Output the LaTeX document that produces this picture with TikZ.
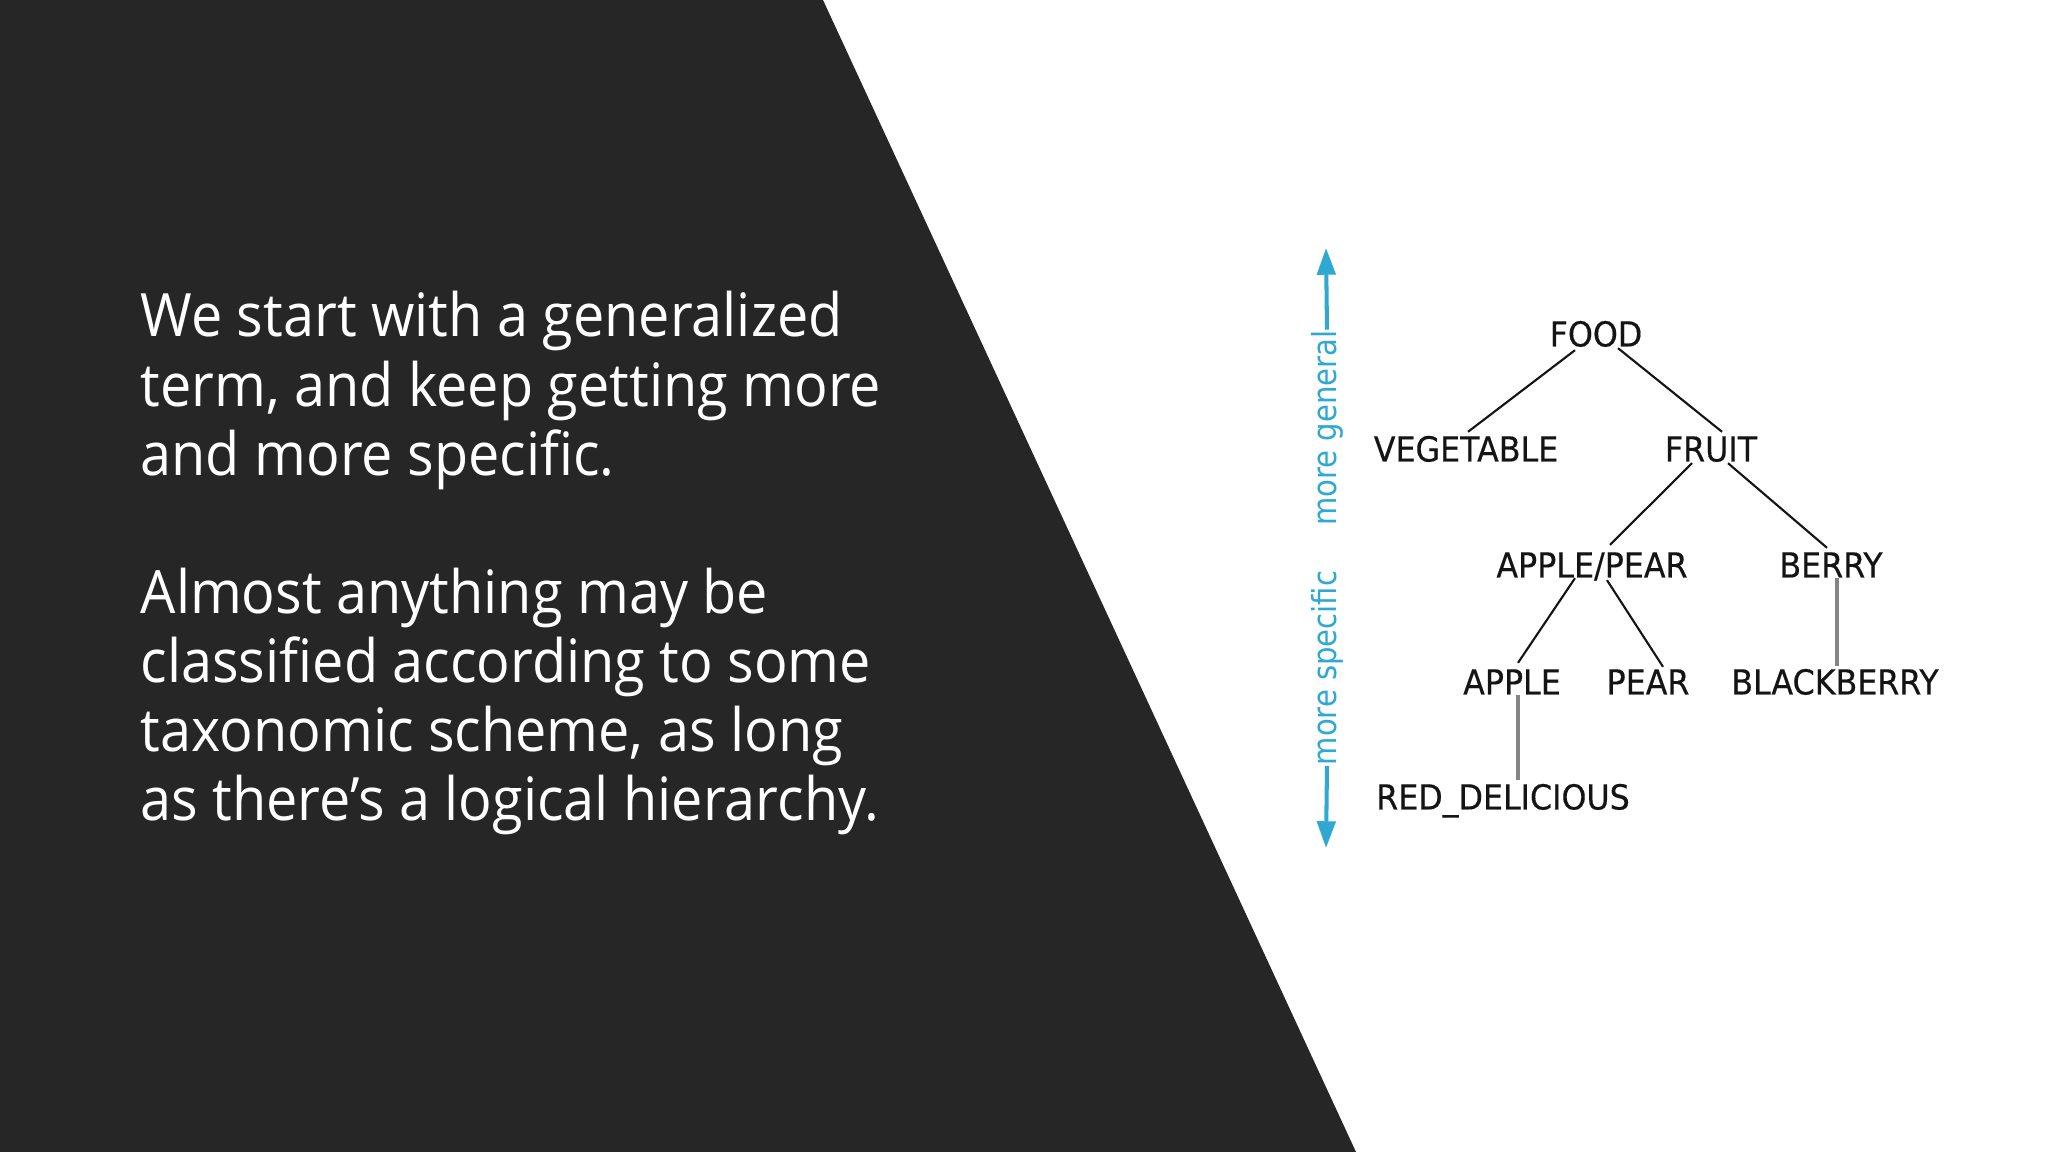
\documentclass[tikz,border=0pt]{standalone}
\usepackage{fontspec}
\setmainfont[FakeStretch=0.933]{Open Sans}
\newfontfamily\treefont[FakeStretch=0.92,FakeBold=0.4]{DejaVu Sans}
\newfontfamily\axisfont[FakeStretch=0.88]{DejaVu Sans}
\usetikzlibrary{arrows.meta,calc}
\definecolor{slidedark}{HTML}{262626}
\definecolor{axisblue}{HTML}{2FA8D2}
\definecolor{treeink}{HTML}{141414}
\definecolor{stemgray}{HTML}{858585}
\tikzset{
  lbl/.style={inner sep=0pt, text height=7.1pt, text depth=0pt, font=\treefont\fontsize{9.8}{11}\selectfont, text=treeink},
  edge/.style={draw=treeink, line width=0.6pt},
  stem/.style={draw=stemgray, line width=1.15pt},
  axislbl/.style={inner sep=0pt, rotate=90, font=\axisfont\fontsize{9.4}{11}\selectfont, text=axisblue},
  axisline/.style={draw=axisblue, line width=1.15pt, -{Triangle[width=5.2pt,length=7.6pt]}},
}
\begin{document}
\begin{tikzpicture}[x=0.01cm,y=-0.01cm]
\useasboundingbox (0,0) rectangle (2048,1152);
\fill[white] (0,0) rectangle (2048,1152);
\fill[slidedark] (0,0) -- (823,0) -- (1356,1152) -- (0,1152) -- cycle;

\node[anchor=base west, inner sep=0pt, text=white, font=\fontsize{17}{19.63}\selectfont] (body) at (140,337)
  {\parbox[t]{9cm}{\raggedright We start with a generalized\\ term, and keep getting more\\ and more specific.\\[19.63pt] Almost anything may be\\ classified according to some\\ taxonomic scheme, as long\\ as there’s a logical hierarchy.}};

% axis
\node[axislbl] (gen) at (1327,428) {more general};
\node[axislbl] (spec) at (1327,668) {more specific};
\coordinate (topTip) at (1326,248);
\coordinate (botTip) at (1326,848);
\draw[axisline] (gen.east) -- (topTip);
\draw[axisline] (spec.west) -- (botTip);

% tree
\node[lbl] (food) at (1596,334) {FOOD};
\node[lbl] (veg) at (1466,449) {VEGETABLE};
\node[lbl] (fruit) at (1711,449) {FRUIT};
\node[lbl] (ap) at (1592,565) {APPLE/PEAR};
\node[lbl] (berry) at (1831,565) {BERRY};
\node[lbl] (apple) at (1512,682) {APPLE};
\node[lbl] (pear) at (1648,682) {PEAR};
\node[lbl] (bb) at (1835,682) {BLACKBERRY};
\node[lbl] (red) at (1503,797) {RED\_DELICIOUS};

\draw[edge] ($(food.south)+(-21,3)$) -- ($(veg.north)+(2,-4)$);
\draw[edge] ($(food.south)+(22,1)$) -- ($(fruit.north)+(11,-4)$);
\draw[edge] ($(fruit.south)+(-19,1)$) -- ($(ap.north)+(18,-7)$);
\draw[edge] ($(fruit.south)+(17,1)$) -- ($(berry.north)+(-4,-4)$);
\draw[edge] ($(ap.south)+(-17,0)$) -- ($(apple.north)+(6,-6)$);
\draw[edge] ($(ap.south)+(15,2)$) -- ($(pear.north)+(15,-2)$);
\draw[stem] ($(berry.south)+(6,0)$) -- ($(bb.north)+(2,-3)$);
\draw[stem] ($(apple.south)+(6,0)$) -- ($(red.north)+(15,-4)$);
\end{tikzpicture}
\end{document}
